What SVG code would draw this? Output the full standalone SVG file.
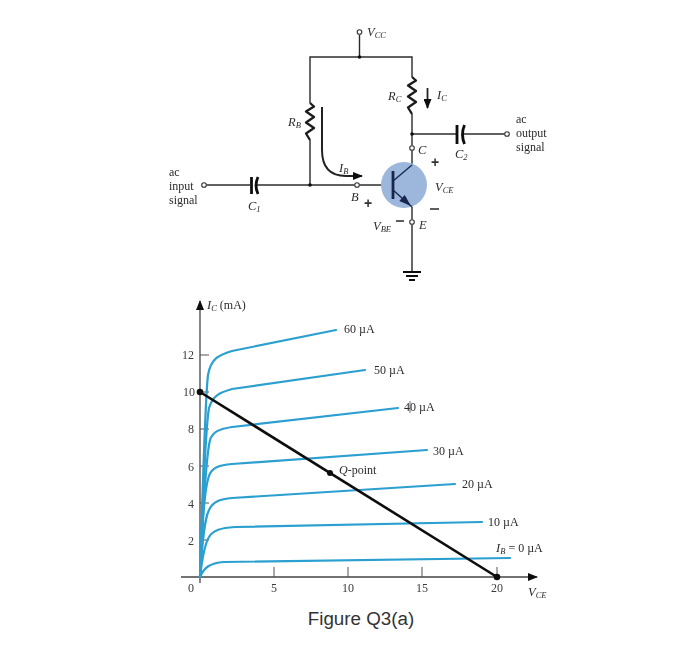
<svg xmlns="http://www.w3.org/2000/svg" width="700" height="649" viewBox="0 0 700 649">
<defs>
<style>
.w{fill:none;stroke:#2b2b2b;stroke-width:1.4}
.z{fill:none;stroke:#1a1a1a;stroke-width:2.300;stroke-linejoin:round}
.t{fill:#fff;stroke:#333;stroke-width:1.100}
.d{fill:#111}
.cap{fill:none;stroke:#111;stroke-width:2.800}
.c{fill:none;stroke:#2a9fd0;stroke-width:2.200;stroke-linecap:round}
.l{font-family:"Liberation Serif",serif;font-size:12px;fill:#2c2c2c}
.i{font-family:"Liberation Serif",serif;font-size:12.500px;font-style:italic;fill:#2c2c2c}
.s{font-size:8.500px;baseline-shift:-2px}
.a{font-family:"Liberation Serif",serif;font-size:12px;fill:#3a3a3a;text-anchor:middle}
.p{font-family:"Liberation Sans",sans-serif;font-size:14px;font-weight:bold;fill:#333;text-anchor:middle}
</style>
<marker id="ah" markerWidth="10" markerHeight="8" refX="9" refY="4" orient="auto" markerUnits="userSpaceOnUse"><path d="M0 0L10 4L0 8Z" fill="#111"/></marker>
<filter id="soft" x="-5%" y="-5%" width="110%" height="110%"><feGaussianBlur stdDeviation="0.5"/></filter>
</defs>
<rect width="700" height="649" fill="#fff"/>
<g filter="url(#soft)">
<g id="connectors">
<path class="w" d="M359.500 35V57M310 103V57H412V77M412 114V145.500M412 150.500V165"/>
<path class="w" d="M310 140V185M206.500 185H250M256 185H354.500M359.500 185H393"/>
<path class="w" d="M412 134H456M463 134H504.500"/>
<path class="w" d="M412 207V219.500M412 224.500V272"/>
<path d="M322 107V150Q322 176 346 176H362" fill="none" stroke="#222" stroke-width="2" marker-end="url(#ah)"/>
<path d="M427.500 88V108" fill="none" stroke="#222" stroke-width="1.800" marker-end="url(#ah)"/>
</g>
<g id="transistor">
<circle cx="404" cy="185" r="23" fill="#9db6dc"/>
<path d="M393 181L412 165M393 190L412 207" fill="none" stroke="#1c2f55" stroke-width="1.500"/>
<path d="M393 171V199" stroke="#16284d" stroke-width="2.800" fill="none"/>
<path d="M411 206L399.300 201L404.700 195Z" fill="#16284d"/>
</g>
<g id="vcc"><circle class="t" cx="359.500" cy="32" r="2.300"/><circle class="d" cx="359.500" cy="57" r="1.800"/><text class="i" x="367" y="36">V<tspan class="s">CC</tspan></text></g>
<g id="rc"><path class="z" d="M412 77L416 80.500L408 85.500L416 91L408 96.500L416 102L408 107.500L412 114"/><text class="i" x="388" y="100">R<tspan class="s">C</tspan></text><text class="i" x="437" y="99">I<tspan class="s">C</tspan></text></g>
<g id="rb"><path class="z" d="M310 103L314 106.500L306 111.500L314 117L306 122.500L314 128L306 133.500L310 140"/><text class="i" x="288" y="126">R<tspan class="s">B</tspan></text></g>
<g id="ib"><text class="i" x="339" y="172">I<tspan class="s">B</tspan></text></g>
<g id="input"><circle class="t" cx="204" cy="185" r="2.300"/><text class="l" x="169" y="176">ac</text><text class="l" x="169" y="190">input</text><text class="l" x="169" y="204">signal</text></g>
<g id="c1"><path class="cap" d="M251.500 177V194"/><path class="cap" d="M258 177Q254 185.500 258 194"/><text class="i" x="248" y="210">C<tspan class="s">1</tspan></text></g>
<g id="rbnode"><circle class="d" cx="310" cy="185" r="1.800"/></g>
<g id="b"><circle class="t" cx="357" cy="185" r="2.300"/><text class="i" x="351" y="201">B</text><text class="p" x="368" y="208">+</text><text class="i" x="373" y="230">V<tspan class="s">BE</tspan></text><path d="M396 221H404" stroke="#333" stroke-width="1.600"/></g>
<g id="c"><circle class="d" cx="412" cy="134" r="1.800"/><circle class="t" cx="412" cy="148" r="2.300"/><text class="i" x="418" y="154">C</text><text class="p" x="435" y="167">+</text><text class="i" x="435" y="191">V<tspan class="s">CE</tspan></text><path d="M430 209H439" stroke="#333" stroke-width="1.600"/></g>
<g id="e"><circle class="t" cx="412" cy="222" r="2.300"/><text class="i" x="419" y="229">E</text></g>
<g id="c2"><path class="cap" d="M457 125V144"/><path class="cap" d="M464.500 125Q460.500 134.500 464.500 144"/><text class="i" x="455" y="158">C<tspan class="s">2</tspan></text></g>
<g id="output"><circle class="t" cx="507" cy="134" r="2.300"/><text class="l" x="516" y="123">ac</text><text class="l" x="516" y="137">output</text><text class="l" x="516" y="151">signal</text></g>
<g id="ground"><path d="M403 272H421M406 276H418M409 280H415" stroke="#111" stroke-width="2.200" fill="none"/></g>
<g id="axes">
<path d="M200 583V301" stroke="#444" stroke-width="1.300" fill="none" marker-end="url(#ah)"/>
<path d="M181 577H537" stroke="#444" stroke-width="1.300" fill="none" marker-end="url(#ah)"/>
<path d="M200 355H209M200 392H209M200 429H209M200 466H209M200 503H209M200 540H209M274 577V567M348 577V567M422 577V567M497 577V567" stroke="#555" stroke-width="1" fill="none"/>
<text class="i" x="207" y="309">I<tspan class="s">C</tspan><tspan font-style="normal" font-size="12"> (mA)</tspan></text>
<text class="a" x="188" y="359">12</text><text class="a" x="189" y="396">10</text><text class="a" x="191" y="433">8</text><text class="a" x="191" y="471">6</text><text class="a" x="191" y="508">4</text><text class="a" x="191" y="545">2</text><text class="a" x="191" y="592">0</text>
<text class="a" x="274" y="592">5</text><text class="a" x="348" y="592">10</text><text class="a" x="422" y="592">15</text><text class="a" x="497" y="592">20</text>
<text class="i" x="528" y="596">V<tspan class="s">CE</tspan></text>
</g>
<g id="curves">
<path class="c" d="M200 577C203 480 205 400 208 375C211 358 219 355 232 351L336 330"/>
<path class="c" d="M200 577C203 500 205 430 209 408C213 394 222 392 232 389L365 370"/>
<path class="c" d="M200 577C203 520 205 460 210 440C213 431 220 429 232 427L398 408"/>
<path class="c" d="M200 577C202 530 204 490 209 476C212 467 220 465 232 464L427 450"/>
<path class="c" d="M200 577C202 545 204 520 209 510C213 501 221 499 232 498L455 484"/>
<path class="c" d="M200 577C202 560 204 545 209 537C213 530 221 528 235 527L482 522"/>
<path class="c" d="M200 577C204 568 209 563 224 562L510 558"/>
</g>
<g id="labels">
<text class="l" x="344" y="333">60 µA</text><text class="l" x="374" y="374">50 µA</text><text class="l" x="404" y="411">40 µA</text><path d="M410 401V413" stroke="#446" stroke-width="0.800"/><text class="l" x="433" y="455">30 µA</text><text class="l" x="462" y="488">20 µA</text><text class="l" x="488" y="526">10 µA</text>
<text class="i" x="496" y="552">I<tspan class="s">B</tspan><tspan font-style="normal" font-size="12"> = 0 µA</tspan></text>
</g>
<g id="loadline">
<path d="M200 392L497 577" stroke="#111" stroke-width="2.600" fill="none"/>
<circle class="d" cx="200" cy="392" r="3.300"/><circle class="d" cx="330" cy="473" r="3"/><circle class="d" cx="497" cy="577" r="3.300"/>
<text class="l" x="339" y="474"><tspan font-style="italic">Q</tspan>-point</text>
</g>
</g>
<g id="caption"><text x="361" y="625" font-family="Liberation Sans,sans-serif" font-size="18.800" fill="#333" text-anchor="middle">Figure Q3(a)</text></g>
</svg>
